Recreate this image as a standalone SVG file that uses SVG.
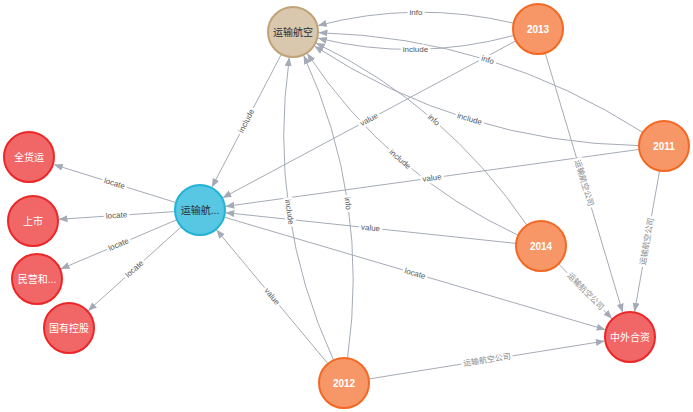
<svg xmlns="http://www.w3.org/2000/svg" width="693" height="412" viewBox="0 0 693 412">
<defs>
<marker id="arr" markerUnits="userSpaceOnUse" markerWidth="9" markerHeight="8" refX="8.5" refY="3.5" orient="auto">
<path d="M0,0 L9,3.5 L0,7 Z" fill="#a5abb6"/>
</marker>
<style>
.e{fill:none;stroke:#a5abb6;stroke-width:1;marker-end:url(#arr)}
.l{font-family:"Liberation Sans","Noto Sans CJK SC",Arial,sans-serif;font-size:8px;fill:#555;text-anchor:middle;dominant-baseline:central;stroke:#fff;stroke-width:5;paint-order:stroke;stroke-linejoin:round}
.lc{fill:#888}
.n circle{stroke-width:2}
.n text{font-family:"Liberation Sans","Noto Sans CJK SC",Arial,sans-serif;font-size:10px;text-anchor:middle;dominant-baseline:central}
.yr circle{fill:#f79767;stroke:#f36924}
.yr text{fill:#fff;font-weight:bold}
.rd circle{fill:#f16667;stroke:#eb2728}
.rd text{fill:#fff}
.tan circle{fill:#d9c8ae;stroke:#c0a378}
.tan text{fill:#2a2c34}
.bl circle{fill:#57c7e3;stroke:#23b3d7}
.bl text{fill:#2a2c34}
</style>
</defs>
<rect width="693" height="412" fill="#fff"/>
<g id="connectors">
<path class="e" d="M513.7,23.2 Q416,0 318.2,25.5"/>
<path class="e" d="M513.8,35.5 Q415,62 318.3,38.2"/>
<path class="e" d="M643,132.5 Q494.4,37.4 319,32.7"/>
<path class="e" d="M639,145.6 Q462,142.5 314.8,46.2"/>
<path class="e" d="M527,225.3 Q445.7,105.7 316.4,43.3"/>
<path class="e" d="M518.3,235.4 Q387,173.8 307.4,53.7"/>
<path class="e" d="M333.6,360.3 Q267,215 289.3,57.7"/>
<path class="e" d="M347.5,358.3 Q370,200 303.8,55.6"/>
<path class="e" d="M516,40.8 L222.9,197.7"/>
<path class="e" d="M639.2,149.4 L225.8,206.4"/>
<path class="e" d="M516.1,243.4 L225.9,212.7"/>
<path class="e" d="M328,363.8 L216.6,230"/>
<path class="e" d="M281.4,54.2 L212,187"/>
<path class="e" d="M224,217.1 L605.1,329.6"/>
<path class="e" d="M176.1,202.6 L54.2,164.7"/>
<path class="e" d="M175.1,211.6 L59,219.3"/>
<path class="e" d="M177,219.7 L61,268.9"/>
<path class="e" d="M181.4,226.7 L88.3,310.6"/>
<path class="e" d="M545.2,53 L622.6,312.1"/>
<path class="e" d="M659.6,170.6 L634.6,311.4"/>
<path class="e" d="M558.5,263.9 L611.8,318.4"/>
<path class="e" d="M368.7,379 L604.3,341.1"/>
<text class="l" transform="translate(416,12)">info</text>
<text class="l" transform="translate(415.5,49.4)">include</text>
<text class="l" transform="translate(487.7,60) rotate(17.1)">info</text>
<text class="l" transform="translate(469.5,119) rotate(17)">include</text>
<text class="l" transform="translate(433.7,120) rotate(40.8)">info</text>
<text class="l" transform="translate(399.9,159.2) rotate(40.7)">include</text>
<text class="l" transform="translate(289.2,212) rotate(81.7)">include</text>
<text class="l" transform="translate(347.8,203.5) rotate(81.8)">info</text>
<text class="l" transform="translate(369,119.5) rotate(-28.2)">value</text>
<text class="l" transform="translate(432,178) rotate(-7.85)">value</text>
<text class="l" transform="translate(370.5,228) rotate(6.03)">value</text>
<text class="l" transform="translate(272,296.5) rotate(50.2)">value</text>
<text class="l" transform="translate(246.5,121) rotate(-62.4)">include</text>
<text class="l" transform="translate(415,273.5) rotate(16.45)">locate</text>
<text class="l" transform="translate(114.5,183.5) rotate(17.2)">locate</text>
<text class="l" transform="translate(116.5,215.5) rotate(-3.77)">locate</text>
<text class="l" transform="translate(118.5,244.5) rotate(-22.9)">locate</text>
<text class="l" transform="translate(134.5,269) rotate(-42)">locate</text>
<text class="l lc" transform="translate(584,183) rotate(73.4)">运输航空公司</text>
<text class="l lc" transform="translate(647,241.5) rotate(-79.9)">运输航空公司</text>
<text class="l lc" transform="translate(585.5,291.5) rotate(45.6)">运输航空公司</text>
<text class="l lc" transform="translate(487,360) rotate(-9.14)">运输航空公司</text>
</g>
<g id="n-yunshuhangkong" class="n tan"><circle cx="293" cy="32" r="25"/><text x="293" y="32">运输航空</text></g>
<g id="n-yunshuhang" class="n bl"><circle cx="200" cy="210" r="25"/><text x="200" y="210">运输航...</text></g>
<g id="n-2013" class="n yr"><circle cx="538" cy="29" r="25"/><text x="538" y="29">2013</text></g>
<g id="n-2011" class="n yr"><circle cx="664" cy="146" r="25"/><text x="664" y="146">2011</text></g>
<g id="n-2014" class="n yr"><circle cx="541" cy="246" r="25"/><text x="541" y="246">2014</text></g>
<g id="n-2012" class="n yr"><circle cx="344" cy="383" r="25"/><text x="344" y="383">2012</text></g>
<g id="n-quanhuoyun" class="n rd"><circle cx="29" cy="157" r="25"/><text x="29" y="157">全货运</text></g>
<g id="n-shangshi" class="n rd"><circle cx="33" cy="221" r="25"/><text x="33" y="221">上市</text></g>
<g id="n-minying" class="n rd"><circle cx="37" cy="279" r="25"/><text x="37" y="279">民营和...</text></g>
<g id="n-guoyou" class="n rd"><circle cx="69" cy="328" r="25"/><text x="69" y="328">国有控股</text></g>
<g id="n-zhongwai" class="n rd"><circle cx="630" cy="337" r="25"/><text x="630" y="337">中外合资</text></g>
</svg>
